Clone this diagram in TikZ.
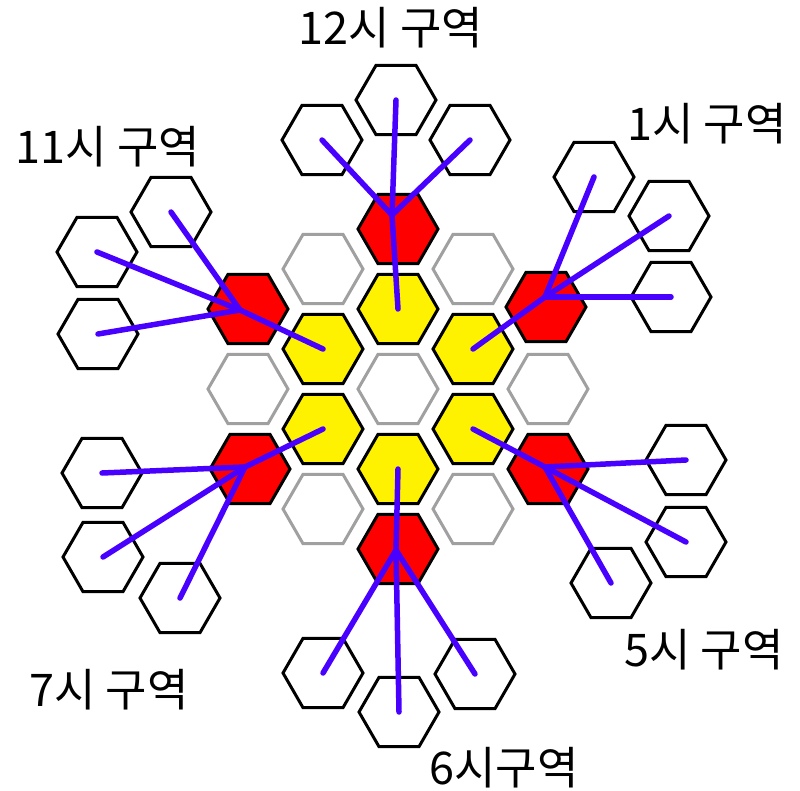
\documentclass[tikz,border=0pt]{standalone}
\usepackage{fontspec}
\setmainfont{Noto Sans CJK KR}

\definecolor{linkblue}{RGB}{72,0,255}
\definecolor{ringgray}{RGB}{160,160,160}

\tikzset{
    hexcell/.pic={
        \path[pic actions] (0:40pt) -- (60:40pt) -- (120:40pt) -- (180:40pt) -- (240:40pt) -- (300:40pt) -- cycle;
    },
}

\begin{document}
\begin{tikzpicture}[
    x=1pt, y=-1pt,
    hexa/.style={draw=black, fill=white, line width=3pt, line join=miter},
    grayhex/.style={hexa, draw=ringgray},
    yellowhex/.style={hexa, fill=yellow},
    redhex/.style={hexa, fill=red},
    link/.style={draw=linkblue, line width=5.5pt, line cap=round, line join=round},
    zone/.style={font=\fontsize{45}{54}\selectfont, inner sep=0pt},
]
    \useasboundingbox (0,0) rectangle (800,790);

    % inner ring
    \path (398,389) coordinate (C0) pic[grayhex] {hexcell};

    \path (398,309) coordinate (Y12) pic[yellowhex] {hexcell};
    \path (473,349) coordinate (Y2) pic[yellowhex] {hexcell};
    \path (473,429) coordinate (Y4) pic[yellowhex] {hexcell};
    \path (398,469) coordinate (Y6) pic[yellowhex] {hexcell};
    \path (323,429) coordinate (Y8) pic[yellowhex] {hexcell};
    \path (323,349) coordinate (Y10) pic[yellowhex] {hexcell};

    % second ring
    \path (473,269) coordinate (G1) pic[grayhex] {hexcell};
    \path (548,389) coordinate (G3) pic[grayhex] {hexcell};
    \path (473,509) coordinate (G5) pic[grayhex] {hexcell};
    \path (323,509) coordinate (G7) pic[grayhex] {hexcell};
    \path (248,389) coordinate (G9) pic[grayhex] {hexcell};
    \path (323,269) coordinate (G11) pic[grayhex] {hexcell};

    \path (398,229) coordinate (R12) pic[redhex] {hexcell};
    \path (546,307) coordinate (R1) pic[redhex] {hexcell};
    \path (548,469) coordinate (R5) pic[redhex] {hexcell};
    \path (398,549) coordinate (R6) pic[redhex] {hexcell};
    \path (250,469) coordinate (R7) pic[redhex] {hexcell};
    \path (248,309) coordinate (R11) pic[redhex] {hexcell};

    % outer hexes
    \path (396,100) coordinate (W12a) pic[hexa] {hexcell};
    \path (322,140) coordinate (W12b) pic[hexa] {hexcell};
    \path (470,140) coordinate (W12c) pic[hexa] {hexcell};

    \path (594,177) coordinate (W1a) pic[hexa] {hexcell};
    \path (669,216) coordinate (W1b) pic[hexa] {hexcell};
    \path (671,297) coordinate (W1c) pic[hexa] {hexcell};

    \path (686,460) coordinate (W5a) pic[hexa] {hexcell};
    \path (686,542) coordinate (W5b) pic[hexa] {hexcell};
    \path (611,583) coordinate (W5c) pic[hexa] {hexcell};

    \path (323,673) coordinate (W6a) pic[hexa] {hexcell};
    \path (399,712) coordinate (W6b) pic[hexa] {hexcell};
    \path (475,674) coordinate (W6c) pic[hexa] {hexcell};

    \path (102,473) coordinate (W7a) pic[hexa] {hexcell};
    \path (103,557) coordinate (W7b) pic[hexa] {hexcell};
    \path (180,598) coordinate (W7c) pic[hexa] {hexcell};

    \path (171,212) coordinate (W11a) pic[hexa] {hexcell};
    \path (97,252) coordinate (W11b) pic[hexa] {hexcell};
    \path (98,334) coordinate (W11c) pic[hexa] {hexcell};

    % zone labels
    \node[zone] (L12) at (391,28) {12시 구역};
    \node[zone] (L1) at (707,124) {1시 구역};
    \node[zone] (L11) at (108,147) {11시 구역};
    \node[zone] (L5) at (704,650) {5시 구역};
    \node[zone] (L7) at (109,690) {7시 구역};
    \node[zone] (L6) at (504,768) {6시구역};

    % branch points
    \coordinate (J12) at (392,215);
    \coordinate (J1) at (545,297);
    \coordinate (J5) at (545,467);
    \coordinate (J6) at (396,550);
    \coordinate (J7) at (245,467);
    \coordinate (J11) at (240,310);

    \draw[link] (Y12) -- (J12) -- (W12a);
    \draw[link] (J12) -- (W12b);
    \draw[link] (J12) -- (W12c);

    \draw[link] (Y2) -- (J1) -- (W1a);
    \draw[link] (J1) -- (W1b);
    \draw[link] (J1) -- (W1c);

    \draw[link] (Y4) -- (J5) -- (W5b);
    \draw[link] (J5) -- (W5a);
    \draw[link] (J5) -- (W5c);

    \draw[link] (Y6) -- (J6) -- (W6b);
    \draw[link] (J6) -- (W6a);
    \draw[link] (J6) -- (W6c);

    \draw[link] (Y8) -- (J7) -- (W7b);
    \draw[link] (J7) -- (W7a);
    \draw[link] (J7) -- (W7c);

    \draw[link] (Y10) -- (J11) -- (W11b);
    \draw[link] (J11) -- (W11a);
    \draw[link] (J11) -- (W11c);
\end{tikzpicture}
\end{document}
